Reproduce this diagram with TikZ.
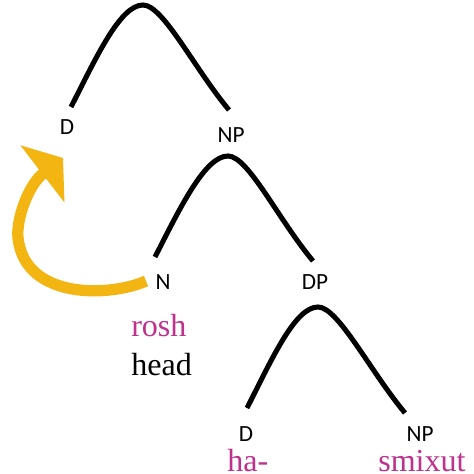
\documentclass[tikz,border=0pt]{standalone}
\usepackage{fontspec}
\setmainfont{Liberation Serif}
\newfontfamily\catfont{Carlito}
\usetikzlibrary{arrows.meta}
\definecolor{hebpink}{RGB}{190,50,140}
\definecolor{movegold}{RGB}{243,181,18}
\tikzset{
  cat/.style={font=\catfont\fontsize{16.5}{18}\selectfont},
  word/.style={font=\fontsize{22.8}{26}\selectfont,inner sep=0pt,anchor=base west},
  branch/.style={line width=3.6pt},
  raise/.style={movegold,line width=8pt,-{Triangle[length=18.5pt,width=50.5pt]}}
}

\begin{document}
\begin{tikzpicture}[x=0.025cm,y=-0.025cm]
    \path[fill=white,use as bounding box] (0,0) rectangle (474,474);
    % categories
    \node[cat] (d1) at (67,127) {D};
    \node[cat] (np1) at (231,135) {NP};
    \node[cat] (n) at (163,282) {N};
    \node[cat] (dp) at (315,282) {DP};
    \node[cat] (d2) at (246,434) {D};
    \node[cat] (np2) at (420,434) {NP};
    % words
    \node[word,hebpink] (rosh) at (131,336) {rosh};
    \node[word] (head) at (131,375) {head};
    \node[word,hebpink] (ha) at (227,471) {ha-};
    \node[word,hebpink] (smixut) at (378,471) {smixut};
    % branches
    \coordinate (top) at (143,5);
    \draw[branch] ([shift={(4,-20)}]d1.center) .. controls +(25,-49) and +(-23,0) .. (top)
      .. controls +(20,0) and +(-35,-42) .. ([shift={(-2,-25)}]np1.center);
    \draw[branch] ([shift={(-8,-25)}]n.center) .. controls +(25,-49) and +(-23,0) .. ([shift={(-3,21)}]np1.center)
      .. controls +(20,0) and +(-35,-42) .. ([shift={(-2,-21)}]dp.center);
    \draw[branch] ([shift={(1,-26)}]d2.center) .. controls +(25,-49) and +(-23,0) .. ([shift={(3,25)}]dp.center)
      .. controls +(20,0) and +(-35,-42) .. ([shift={(-15,-21)}]np2.center);
    % head movement
    \coordinate (bend) at (18,238);
    \draw[raise] ([shift={(-17,-1)}]n.center) .. controls +(-36,16) and +(7,62) .. (bend)
      .. controls +(-2,-18) and +(-35,27) .. ([shift={(-4,31)}]d1.center);
  \end{tikzpicture}
\end{document}
